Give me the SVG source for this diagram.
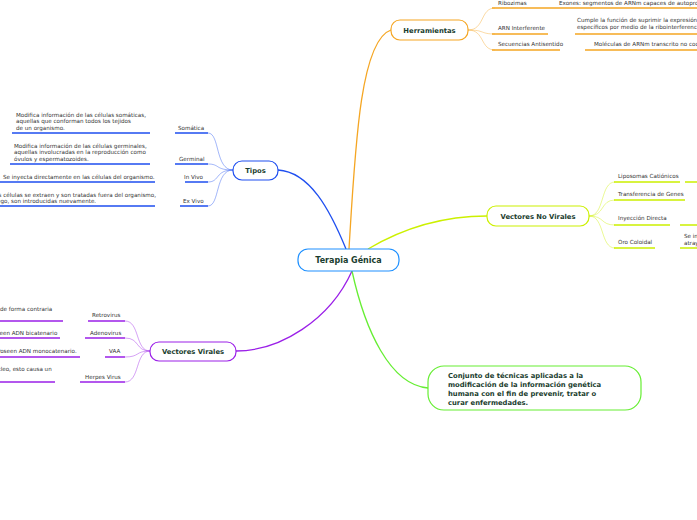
<svg xmlns="http://www.w3.org/2000/svg" width="697" height="520" viewBox="0 0 697 520">
<style>
text{font-family:"DejaVu Sans",Verdana,sans-serif;font-size:5.6px;fill:#333}
.n{font-weight:bold;font-size:8px;fill:#1a3d2e}
.g{font-weight:bold;font-size:6.8px;fill:#1a3d2e}
.b{fill:#fff;stroke-width:1.2}
path{fill:none}
.o{stroke:#f5a623}.bl{stroke:#1f4ff0}.y{stroke:#ccf000}.p{stroke:#9b20e8}.gr{stroke:#66ee33}
.t{stroke-width:1.5}.c{stroke-width:0.7;opacity:.6}
</style>
<rect width="697" height="520" fill="#fff"/>
<g id="connectors">
<path class="o" stroke-width="1.3" d="M349 249 C355 150,360 40,391 30"/>
<path class="bl" stroke-width="1.3" d="M346 249 C330 210,310 172,278 170"/>
<path class="y" stroke-width="1.3" d="M368 249 C400 230,440 216,487 216"/>
<path class="p" stroke-width="1.3" d="M352 271 C330 320,280 351,236 351"/>
<path class="gr" stroke-width="1.3" d="M352 271 C365 330,390 385,428 388"/>
<!-- herramientas branches -->
<path class="o c" d="M468 30 C485 30,480 8,495 8 M468 30 C485 30,480 34,495 34 M468 30 C485 30,480 50,495 50"/>
<path class="o t" d="M492 8H530M530 8H556M556 8H697 M492 34H548M575 34H697 M492 50H560M585 50H697"/>
<!-- tipos -->
<path class="bl c" d="M233 170 C215 170,220 133,208 133 M233 170 C215 170,220 164,208 164 M233 170 C215 170,220 182,208 182 M233 170 C215 170,220 206,208 206"/>
<path class="bl t" d="M12 133H150M175 133H208 M10 164H150M175 164H208 M0 182H155M185 182H208 M0 206H155M180 206H208"/>
<!-- no virales -->
<path class="y c" d="M589 216 C605 216,600 182,615 182 M589 216 C605 216,600 200,615 200 M589 216 C605 216,600 225,615 225 M589 216 C605 216,600 248,615 248"/>
<path class="y t" d="M614 182H680M685 182H697 M614 200H685 M614 225H670M680 225H697 M614 248H655M680 248H697"/>
<!-- virales -->
<path class="p c" d="M150 351 C135 351,140 321,125 321 M150 351 C135 351,140 338,125 338 M150 351 C135 351,140 357,125 357 M150 351 C135 351,140 382,125 382"/>
<path class="p t" d="M0 321H63M88 321H125 M0 338H60M85 338H125 M0 357H80M105 357H125 M0 382H55M80 382H125"/>
</g>
<g id="n-center"><rect class="b" x="298" y="249" width="101" height="22" rx="10" stroke="#1e90ff"/><text class="n" x="348.5" y="263" text-anchor="middle">Terapia Génica</text></g>
<g id="n-herr"><rect class="b" x="391" y="20" width="77" height="20" rx="9" stroke="#f5a623"/><text class="g" x="429.5" y="33" text-anchor="middle">Herramientas</text></g>
<g id="n-tipos"><rect class="b" x="233" y="161" width="45" height="19" rx="9" stroke="#1f4ff0"/><text class="g" x="255.5" y="173" text-anchor="middle">Tipos</text></g>
<g id="n-novir"><rect class="b" x="487" y="206" width="102" height="20" rx="9" stroke="#ccf000"/><text class="g" x="538" y="219" text-anchor="middle">Vectores No Virales</text></g>
<g id="n-vir"><rect class="b" x="150" y="342" width="86" height="19" rx="9" stroke="#9b20e8"/><text class="g" x="193" y="354" text-anchor="middle">Vectores Virales</text></g>
<g id="n-def"><rect class="b" x="428" y="366" width="213" height="44" rx="16" stroke="#66ee33"/>
<text class="g" x="448" y="378">Conjunto de técnicas aplicadas a la</text>
<text class="g" x="448" y="387">modificación de la información genética</text>
<text class="g" x="448" y="396">humana con el fin de prevenir, tratar o</text>
<text class="g" x="448" y="405">curar enfermedades.</text></g>
<g id="labels-herr">
<text x="498" y="5">Ribozimas</text><text x="559" y="5">Exones: segmentos de ARNm capaces de autoprocesarse</text>
<text x="498" y="30">ARN Interferente</text><text x="577" y="22">Cumple la función de suprimir la expresión de genes</text><text x="577" y="29">específicos por medio de la ribointerferencia</text>
<text x="498" y="46">Secuencias Antisentido</text><text x="594" y="46">Moléculas de ARNm transcrito no codificante</text>
</g>
<g id="labels-tipos">
<text x="16" y="117">Modifica información de las células somáticas,</text><text x="16" y="123">aquellas que conforman todos los tejidos</text><text x="16" y="130">de un organismo.</text><text x="178" y="130">Somática</text>
<text x="14" y="148">Modifica información de las células germinales,</text><text x="14" y="154">aquellas involucradas en la reproducción como</text><text x="14" y="161">óvulos y espermatozoides.</text><text x="179" y="161">Germinal</text>
<text x="3" y="179">Se inyecta directamente en las células del organismo.</text><text x="184" y="179">In Vivo</text>
<text x="-8" y="197">Las células se extraen y son tratadas fuera del organismo,</text><text x="-8" y="203">luego, son introducidas nuevamente.</text><text x="183" y="203">Ex Vivo</text>
</g>
<g id="labels-novir">
<text x="618" y="178">Liposomas Catiónicos</text>
<text x="618" y="196">Transferencia de Genes</text>
<text x="618" y="220">Inyección Directa</text>
<text x="618" y="244">Oro Coloidal</text><text x="684" y="238">Se inyecta</text><text x="684" y="245">atrayendo</text>
</g>
<g id="labels-vir">
<text x="0" y="311">de forma contraria</text><text x="92" y="317">Retrovirus</text>
<text x="-10" y="335">Poseen ADN bicatenario</text><text x="90" y="335">Adenovirus</text>
<text x="-3" y="353">Poseen ADN monocatenario.</text><text x="109" y="353">VAA</text>
<text x="-25" y="371">en el núcleo, esto causa un</text><text x="85" y="379">Herpes Virus</text>
</g>
</svg>
